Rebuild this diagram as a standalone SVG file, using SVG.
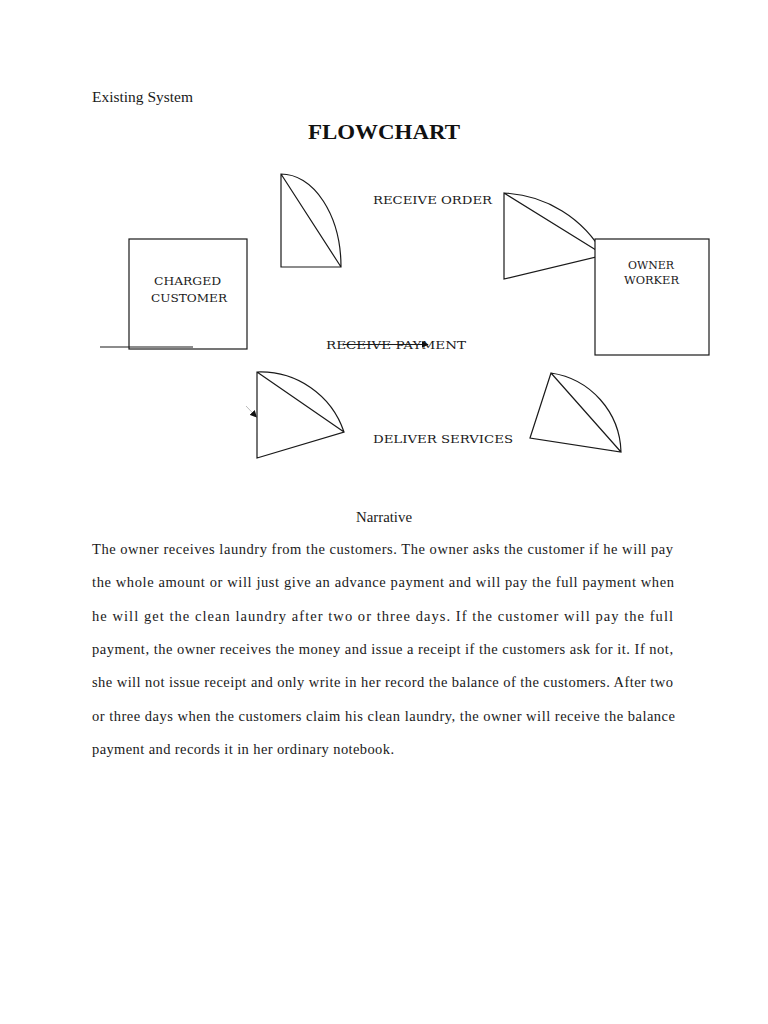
<svg xmlns="http://www.w3.org/2000/svg" width="768" height="1024" viewBox="0 0 768 1024">
<defs>
<style>
.shp{fill:none;stroke:#1a1a1a;stroke-width:1.2}
.box{fill:#fff;stroke:#1a1a1a;stroke-width:1.2}
.lbl{font-family:"DejaVu Serif","Liberation Serif",serif;fill:#1a1a1a;font-size:11.5px}
.body{font-family:"Liberation Serif","Times New Roman",serif;fill:#1a1a1a;font-size:14.5px}
.con{fill:none;stroke:#1a1a1a;stroke-width:1.2}
</style>
<marker id="ah" viewBox="0 0 10 10" refX="9" refY="5" markerWidth="7" markerHeight="7" orient="auto" markerUnits="userSpaceOnUse">
<path d="M0,0 L10,5 L0,10 Z" fill="#111"/>
</marker>
</defs>
<rect width="768" height="1024" fill="#fff"/>

<text class="body" x="92" y="102" font-size="13.5" textLength="101" lengthAdjust="spacingAndGlyphs">Existing System</text>
<text x="308" y="139" font-family="Liberation Serif,'Times New Roman',serif" font-weight="bold" font-size="21.5" fill="#111" textLength="152" lengthAdjust="spacingAndGlyphs">FLOWCHART</text>

<g id="wedge-top-left">
<path class="shp" d="M281,267 L281,174 A60 93 0 0 1 341,267 Z M281,174 L341,267"/>
</g>
<g id="wedge-receive-order">
<path class="shp" d="M504,279 L504,193 A120 120 0 0 1 604,255 Z M504,193 L604,255"/>
</g>
<g id="wedge-bottom-left">
<path class="shp" d="M257,458 L257,372 A88 88 0 0 1 344,432 Z M257,372 L344,432"/>
</g>
<g id="wedge-bottom-right">
<path class="shp" d="M530,438 L551,373 A82 82 0 0 1 621,452 Z M551,373 L621,452"/>
</g>

<g id="charged-customer">
<rect class="box" x="129" y="239" width="118" height="110"/>
<text class="lbl" x="154" y="285" textLength="67" lengthAdjust="spacingAndGlyphs">CHARGED</text>
<text class="lbl" x="151" y="302" textLength="76" lengthAdjust="spacingAndGlyphs">CUSTOMER</text>
</g>
<g id="owner-worker">
<rect class="box" x="595" y="239" width="114" height="116"/>
<text class="lbl" x="628" y="269" font-size="10.5" textLength="46" lengthAdjust="spacingAndGlyphs">OWNER</text>
<text class="lbl" x="624" y="284" font-size="10.5" textLength="55" lengthAdjust="spacingAndGlyphs">WORKER</text>
</g>

<g id="labels">
<text class="lbl" x="373" y="204" textLength="119" lengthAdjust="spacingAndGlyphs">RECEIVE ORDER</text>
<text class="lbl" x="326" y="349" textLength="140" lengthAdjust="spacingAndGlyphs">RECEIVE PAYMENT</text>
<text class="lbl" x="373" y="443" textLength="140" lengthAdjust="spacingAndGlyphs">DELIVER SERVICES</text>
</g>

<g id="connectors">
<line class="con" x1="100" y1="347" x2="193" y2="347"/>
<line class="con" x1="343" y1="344.5" x2="428" y2="344.5" marker-end="url(#ah)"/>
<line x1="246" y1="406" x2="256.5" y2="417" stroke="#bbb" stroke-width="1" marker-end="url(#ah)"/>
</g>

<g id="narrative">
<text class="body" x="356" y="522" font-size="13.5" textLength="56" lengthAdjust="spacingAndGlyphs">Narrative</text>
<text class="body" x="92" y="554" textLength="581" lengthAdjust="spacing">The owner receives laundry from the customers. The owner asks the customer if he will pay</text>
<text class="body" x="92" y="587" textLength="582" lengthAdjust="spacing">the whole amount or will just give an advance payment and will pay the full payment when</text>
<text class="body" x="92" y="621" textLength="581" lengthAdjust="spacing">he will get the clean laundry after two or three days. If the customer will pay the full</text>
<text class="body" x="92" y="654" textLength="581" lengthAdjust="spacing">payment, the owner receives the money and issue a receipt if the customers ask for it.  If not,</text>
<text class="body" x="92" y="687" textLength="581" lengthAdjust="spacing">she will not issue receipt and only write in her record the balance of the customers. After two</text>
<text class="body" x="92" y="721" textLength="583" lengthAdjust="spacing">or three days when the customers claim his clean laundry, the owner will receive the balance</text>
<text class="body" x="92" y="754" textLength="302" lengthAdjust="spacing">payment and records it in her ordinary notebook.</text>
</g>
</svg>
